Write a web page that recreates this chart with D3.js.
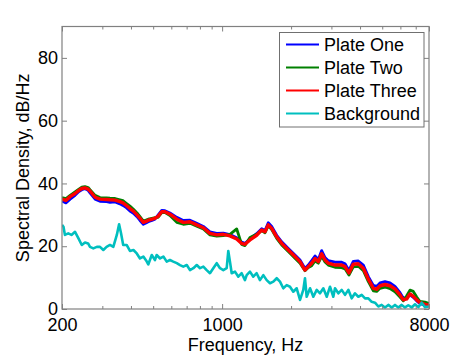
<!DOCTYPE html>
<html><head><meta charset="utf-8">
<script src="https://cdn.jsdelivr.net/npm/d3@7"></script>
<style>
html,body{margin:0;padding:0;background:#fff;}
text{font-family:"Liberation Sans",Arial,sans-serif;}
</style></head>
<body>
<svg id="chart" width="474" height="355"></svg>
<script>
const seriesNames = ["Plate One","Plate Two","Plate Three","Background"];
const seriesColors = ["#0000ff","#008000","#ff0000","#00bfbf"];
const xMajorTicks = [200,1000,8000];
const xMinorTicks = [300,400,500,600,700,800,900,2000,3000,4000,5000,6000,7000];
const yTicks = [0,20,40,60,80];

const plateFreq = [200,208,217,228,237,244,252,260,265,279,293,313,324,341,358,369,383,396,410,425,438,453,465,476,494,509,525,545,563,592,634,677,724,775,828,885,947,1012,1082,1158,1217,1258,1323,1415,1488,1539,1590,1646,1731,1820,1945,2080,2188,2300,2378,2460,2544,2630,2720,2813,2908,3110,3327,3440,3578,3738,3932,4135,4348,4572,4728,4888,5140,5406,5684,5978,6180,6394,6608,6832,7070,7308,7684,8000];
const plateOne = [34.4,33.8,35.0,36.2,37.4,38.0,38.3,37.8,37.0,35.0,34.3,34.2,34.0,34.1,33.5,33.0,32.2,31.2,30.5,29.4,28.2,27.0,27.4,27.8,28.2,28.6,29.9,31.4,31.3,30.6,29.2,28.2,28.3,27.3,26.3,24.6,24.1,24.2,23.7,22.7,21.3,20.9,22.4,24.0,25.6,25.0,27.5,26.3,23.5,21.4,19.3,17.2,15.6,12.9,14.0,15.4,16.9,15.8,18.6,16.4,15.4,14.9,14.9,14.4,12.3,15.2,15.3,14.0,10.3,7.5,7.2,8.3,8.7,8.3,7.2,5.2,3.4,3.6,4.5,3.7,2.6,1.7,1.2,1.0];
const plateTwo = [35.5,35.2,36.2,37.3,38.2,38.8,39.0,38.7,38.0,36.2,35.5,35.4,35.3,35.2,34.8,34.5,33.6,32.8,31.8,30.6,29.4,28.0,28.3,28.6,28.9,29.1,29.2,30.7,30.7,29.8,27.6,27.0,27.3,26.4,25.5,23.6,23.2,23.4,23.8,25.5,20.6,20.2,22.8,23.8,25.0,24.3,26.5,25.3,22.5,20.4,18.3,16.2,14.6,12.2,13.2,13.8,15.3,14.6,16.8,15.0,14.0,13.3,13.2,12.8,10.8,13.4,13.6,12.2,8.7,5.8,5.6,6.6,7.0,6.5,5.5,3.8,2.6,4.2,6.0,5.6,3.8,2.4,2.2,1.8];
const plateThree = [35.0,34.6,35.8,36.8,37.8,38.4,38.6,38.2,37.6,35.6,35.0,34.9,34.8,34.7,34.2,33.8,32.9,32.0,31.2,30.0,28.9,27.6,27.9,28.3,28.6,28.9,29.5,31.0,31.0,30.2,28.6,27.6,27.8,26.8,25.9,24.1,23.6,23.8,23.3,22.3,20.9,20.6,22.0,23.5,25.2,24.6,26.8,25.7,23.0,20.9,18.8,16.7,15.1,12.4,13.5,14.6,16.1,15.1,17.6,15.6,14.6,14.0,14.0,13.5,11.5,14.3,14.4,13.0,9.5,6.6,6.3,7.4,7.8,7.4,6.4,4.5,2.9,3.2,4.8,4.0,2.9,2.0,1.5,1.2];

const bgFreq = [200,203,206,213,220,228,236,244,252,260,265,274,284,293,303,313,324,335,347,355,362,370,383,396,410,424,438,453,469,476,493,509,518,536,554,573,592,612,634,655,677,701,724,749,775,801,828,856,885,915,947,979,1012,1047,1064,1082,1101,1138,1177,1217,1258,1280,1323,1368,1415,1463,1513,1565,1618,1673,1731,1789,1849,1914,1978,2045,2116,2188,2261,2300,2340,2420,2501,2588,2675,2766,2862,2958,3058,3110,3215,3327,3440,3556,3678,3802,3932,4068,4205,4348,4497,4650,4807,4972,5140,5314,5500,5684,5876,6080,6284,6498,6722,6950,7186,7434,7684,8000];
const background = [26.8,26.2,23.6,24.1,23.6,24.6,22.5,20.4,21.2,20.9,19.8,19.3,19.8,19.8,18.8,19.8,20.4,19.8,23.6,27.0,24.1,20.4,20.4,18.5,18.8,17.7,16.1,16.7,15.1,14.2,17.2,15.6,17.2,16.1,16.7,15.1,15.6,15.1,14.6,14.0,13.5,14.0,12.4,13.0,14.0,13.0,13.5,12.4,11.4,13.0,14.6,13.0,12.4,13.0,18.5,15.1,11.4,11.9,10.3,11.4,9.2,10.8,11.9,10.3,11.4,9.2,10.8,9.2,8.2,8.7,9.8,8.7,6.6,7.6,7.1,5.5,6.6,2.9,6.1,9.8,3.9,6.6,3.9,6.1,5.0,6.6,3.9,7.1,3.9,6.6,5.0,6.1,4.5,6.1,3.4,5.0,3.9,4.5,3.4,3.4,2.3,2.0,0.8,1.3,0.5,1.3,0.5,1.3,0.5,1.3,0.5,1.2,0.5,1.5,0.6,2.0,0.6,0.8];

const svg = d3.select("#chart");
const L = 62, R = 429, T = 26.5, B = 309;
const x = d3.scaleLog().domain([200,8000]).range([L,R]);
const y = d3.scaleLinear().domain([0,90]).range([B,T]);
const axisColor = "#808080";
const fontSize = 18;

svg.append("defs").append("clipPath").attr("id","clip")
  .append("rect").attr("x",L).attr("y",T).attr("width",R-L).attr("height",B-T);

const series = [
  {name:seriesNames[0], color:seriesColors[0], freq:plateFreq, vals:plateOne, w:2.8},
  {name:seriesNames[1], color:seriesColors[1], freq:plateFreq, vals:plateTwo, w:2.8},
  {name:seriesNames[2], color:seriesColors[2], freq:plateFreq, vals:plateThree, w:3.4},
  {name:seriesNames[3], color:seriesColors[3], freq:bgFreq, vals:background, w:2.6}
];
const line = d3.line().x(d=>x(d[0])).y(d=>y(d[1]));
const g = svg.append("g").attr("clip-path","url(#clip)");
series.forEach(s=>{
  g.append("path").datum(d3.zip(s.freq,s.vals))
    .attr("d",line).attr("fill","none").attr("stroke",s.color)
    .attr("stroke-width",s.w).attr("stroke-linejoin","round");
});

function styleAxis(sel){
  sel.select(".domain").remove();
  sel.selectAll(".tick line").attr("stroke",axisColor);
  sel.selectAll(".tick text").attr("fill","#000").style("font-size",fontSize+"px")
     .style("font-family",'"Liberation Sans",Arial,sans-serif');
}
const fmt = d=>String(d);
// bottom
svg.append("g").attr("transform",`translate(0,${B})`)
  .call(d3.axisBottom(x).tickValues(xMajorTicks).tickFormat(fmt).tickSize(-5).tickPadding(9)).call(styleAxis);
svg.append("g").attr("transform",`translate(0,${B})`)
  .call(d3.axisBottom(x).tickValues(xMinorTicks).tickFormat("").tickSize(-3)).call(styleAxis);
// top
svg.append("g").attr("transform",`translate(0,${T})`)
  .call(d3.axisTop(x).tickValues(xMajorTicks).tickFormat("").tickSize(-5)).call(styleAxis);
svg.append("g").attr("transform",`translate(0,${T})`)
  .call(d3.axisTop(x).tickValues(xMinorTicks).tickFormat("").tickSize(-3)).call(styleAxis);
// left
svg.append("g").attr("transform",`translate(${L},0)`)
  .call(d3.axisLeft(y).tickValues(yTicks).tickFormat(fmt).tickSize(-5).tickPadding(4)).call(styleAxis);
// right
svg.append("g").attr("transform",`translate(${R},0)`)
  .call(d3.axisRight(y).tickValues(yTicks).tickFormat("").tickSize(-5)).call(styleAxis);

svg.append("rect").attr("x",L).attr("y",T).attr("width",R-L).attr("height",B-T)
  .attr("fill","none").attr("stroke",axisColor).attr("stroke-width",1.2);

// axis labels
svg.append("text").attr("x",(L+R)/2).attr("y",351).attr("text-anchor","middle")
  .style("font-size",fontSize+"px").text("Frequency, Hz");
svg.append("text").attr("transform",`translate(29,${(T+B)/2}) rotate(-90)`)
  .attr("text-anchor","middle").style("font-size",fontSize+"px").text("Spectral Density, dB/Hz");

// legend
const lg = svg.append("g");
lg.append("rect").attr("x",279.5).attr("y",32.5).attr("width",144.5).attr("height",94.5)
  .attr("fill","#fff").attr("stroke","#707070").attr("stroke-width",1);
const rowY = [44.5,67.5,90.5,113.5];
series.forEach((s,i)=>{
  lg.append("line").attr("x1",286).attr("x2",319).attr("y1",rowY[i]).attr("y2",rowY[i])
    .attr("stroke",s.color).attr("stroke-width",2.2);
  lg.append("text").attr("x",324).attr("y",rowY[i]).attr("dy","0.35em")
    .style("font-size",fontSize+"px").text(s.name);
});
</script>
</body></html>
